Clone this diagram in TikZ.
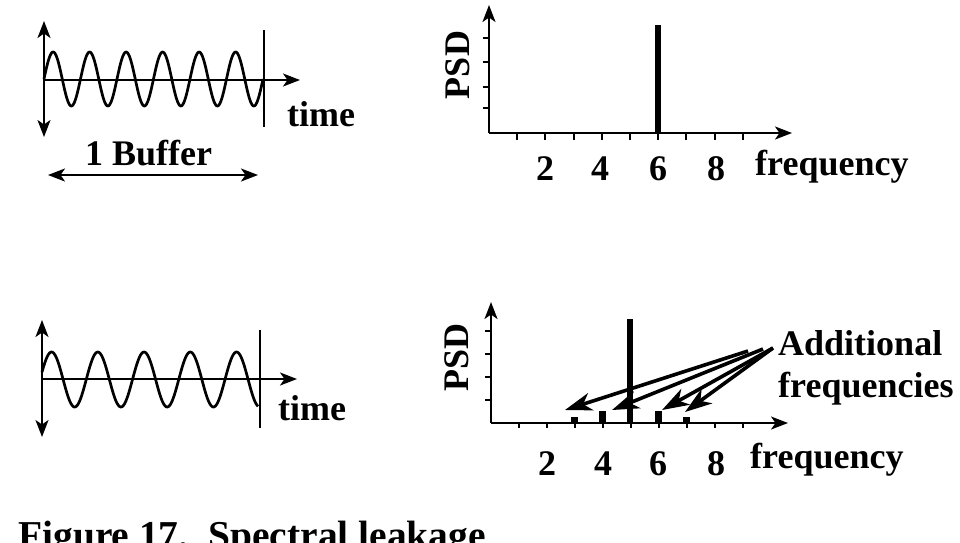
\documentclass[tikz,border=0pt]{standalone}
\usepackage{fontspec}
\setmainfont{Liberation Serif}
\usetikzlibrary{arrows.meta}
\begin{document}
\begin{tikzpicture}[x=1pt,y=-1pt,
  tipa/.tip={Stealth[length=17pt,width=13pt,inset=4.5pt]},
  axis/.style={line width=2.2pt,-tipa},
  daxis/.style={line width=2.2pt,tipa-tipa},
  wave/.style={line width=2.7pt,line join=round},
  thinline/.style={line width=1.2pt},
  tickmark/.style={line width=2pt},
  lbl/.style={font=\fontsize{36}{42}\selectfont\bfseries,inner sep=0pt,anchor=base west},
  num/.style={font=\fontsize{36}{42}\selectfont\bfseries,inner sep=0pt,anchor=base},
  ptr/.style={line width=3.6pt,-{Stealth[length=27pt,width=18pt,inset=8pt]}},
]
\clip (0,0) rectangle (960,542);
\fill[white] (0,0) rectangle (960,542);

% ---------- top left: time signal, 6 whole cycles ----------
\coordinate (a1t) at (44,21);
\coordinate (a1b) at (44,137);
\coordinate (a1o) at (44,80);
\coordinate (a1r) at (300,80);
\draw[daxis] (a1b) -- (a1t);
\draw[axis] (a1o) -- (a1r);
\draw[wave] plot[domain=44:263,samples=240] (\x,{79-27*sin(9.863*(\x-44))});
\coordinate (e1t) at (264,30);
\coordinate (e1b) at (264,127);
\draw[thinline] (e1t) -- (e1b);
\node[lbl] (time1) at (287,126) {time};
\node[num] (buf) at (148.5,165) {1 Buffer};
\coordinate (bl) at (48,175);
\coordinate (br) at (258,175);
\draw[daxis] (bl) -- (br);

% ---------- top right: PSD with single line ----------
\coordinate (p1o) at (489,133);
\coordinate (p1t) at (489,5);
\coordinate (p1r) at (792,133);
\draw[axis] (p1o) -- (p1t);
\draw[axis] (p1o) -- (p1r);
\foreach \y in {38,62,87,108} \draw[tickmark] (483,\y) -- (489,\y);
\foreach \k in {1,...,9} \draw[tickmark] ({489+28.2*\k},133) -- ({489+28.2*\k},140);
\fill (655,25) rectangle (661,133);
\node[lbl,anchor=center,rotate=90] (psd1) at (457.5,65) {PSD};
\node[num] (n12) at (545,180) {2};
\node[num] (n14) at (600,180) {4};
\node[num] (n16) at (658,180) {6};
\node[num] (n18) at (716,180) {8};
\node[lbl] (freq1) at (755,175) {frequency};

% ---------- bottom left: time signal, non-integer cycles ----------
\coordinate (a2t) at (42,320);
\coordinate (a2b) at (42,437);
\coordinate (a2o) at (42,379);
\coordinate (a2r) at (297,379);
\draw[daxis] (a2b) -- (a2t);
\draw[axis] (a2o) -- (a2r);
\draw[wave] plot[domain=42:258,samples=240] (\x,{379.5-27.5*sin(7.784*(\x-40))});
\coordinate (e2t) at (260,330);
\coordinate (e2b) at (260,428);
\draw[thinline] (e2t) -- (e2b);
\node[lbl] (time2) at (278,420) {time};

% ---------- bottom right: PSD with leakage ----------
\coordinate (p2o) at (491,423);
\coordinate (p2t) at (491,302);
\coordinate (p2r) at (788,423);
\draw[axis] (p2o) -- (p2t);
\draw[axis] (p2o) -- (p2r);
\foreach \y in {331,354,377,400} \draw[tickmark] (485,\y) -- (491,\y);
\foreach \k in {1,...,9} \draw[tickmark] ({491+28*\k},423) -- ({491+28*\k},428);
\fill (627,319) rectangle (633,423);
\fill (570.5,417) rectangle (577.5,423);
\fill (598.5,411) rectangle (605.5,423);
\fill (654.5,411) rectangle (661.5,423);
\fill (682.5,417) rectangle (689.5,423);
\node[lbl,anchor=center,rotate=90] (psd2) at (456.5,357) {PSD};
\node[num] (n22) at (547,475) {2};
\node[num] (n24) at (603,475) {4};
\node[num] (n26) at (658,475) {6};
\node[num] (n28) at (716,475) {8};
\node[lbl] (freq2) at (750,468) {frequency};
\node[lbl] (add) at (778,355) {Additional};
\node[lbl] (addf) at (778,397) {frequencies};
\coordinate (s1) at (748,351);
\coordinate (s2) at (763,349);
\coordinate (s3) at (773,348);
\coordinate (t1) at (565,410);
\coordinate (t2) at (612,410);
\coordinate (t3) at (662,410);
\coordinate (t4) at (685,412);
\draw[ptr] (s1) -- (t1);
\draw[ptr] (s2) -- (t2);
\draw[ptr] (s3) -- (t3);
\draw[ptr] (s3) -- (t4);

% ---------- caption (cut off at the bottom edge, as in the reference) ----------
\node[font=\fontsize{39.5}{46}\selectfont\bfseries,inner sep=0pt,anchor=base west] (cap) at (18,548) {Figure 17.\ \ Spectral leakage};
\end{tikzpicture}
\end{document}
